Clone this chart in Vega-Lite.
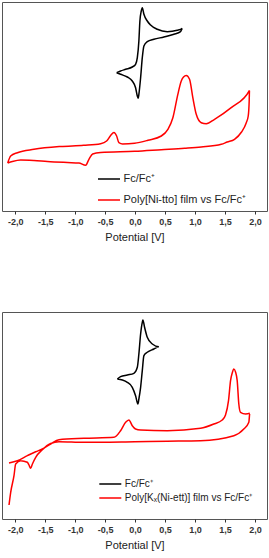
{
  "$schema": "https://vega.github.io/schema/vega-lite/v6.json",
  "padding": {"left": 1, "top": 1, "right": 2, "bottom": 0},
  "background": "white",
  "spacing": 68,
  "config": {
    "font": "Liberation Sans",
    "view": {"stroke": "#555555", "strokeWidth": 1},
    "axisX": {
      "values": [-2, -1.75, -1.5, -1.25, -1, -0.75, -0.5, -0.25, 0, 0.25, 0.5, 0.75, 1, 1.25, 1.5, 1.75, 2],
      "labelExpr": "abs(datum.value*2 - round(datum.value*2)) < 0.001 ? replace(replace(format(datum.value, '.1f'), '.', ','), '\u2212', '-') : ''",
      "domain": false,
      "grid": false,
      "ticks": true,
      "tickSize": 3,
      "tickColor": "#333333",
      "labelFont": "Liberation Sans",
      "labelFontWeight": "bold",
      "labelFontSize": 9,
      "labelColor": "#333333",
      "labelPadding": 3,
      "labelOverlap": false,
      "labelFlush": false,
      "titleFont": "Liberation Sans",
      "titleFontSize": 11,
      "titleFontWeight": "normal",
      "titleColor": "#222222",
      "titlePadding": 5
    },
    "legend": {
      "padding": 0,
      "symbolType": "M-2,0L2,0",
      "symbolSize": 121,
      "symbolStrokeWidth": 1.5,
      "labelFont": "Liberation Sans",
      "labelColor": "#222222",
      "labelOffset": 8,
      "title": null
    }
  },
  "resolve": {"scale": {"color": "independent"}},
  "datasets": {
    "top": [
      {"s": "Fc/Fc⁺", "i": 1, "V": -0.308, "I": 138.3},
      {"s": "Fc/Fc⁺", "i": 2, "V": -0.242, "I": 140},
      {"s": "Fc/Fc⁺", "i": 3, "V": -0.158, "I": 141.7},
      {"s": "Fc/Fc⁺", "i": 4, "V": -0.047, "I": 144},
      {"s": "Fc/Fc⁺", "i": 5, "V": 0.008, "I": 146.7},
      {"s": "Fc/Fc⁺", "i": 6, "V": 0.037, "I": 153.3},
      {"s": "Fc/Fc⁺", "i": 7, "V": 0.063, "I": 170},
      {"s": "Fc/Fc⁺", "i": 8, "V": 0.08, "I": 190},
      {"s": "Fc/Fc⁺", "i": 9, "V": 0.103, "I": 200},
      {"s": "Fc/Fc⁺", "i": 10, "V": 0.12, "I": 203.3},
      {"s": "Fc/Fc⁺", "i": 11, "V": 0.147, "I": 196.7},
      {"s": "Fc/Fc⁺", "i": 12, "V": 0.203, "I": 190},
      {"s": "Fc/Fc⁺", "i": 13, "V": 0.258, "I": 186},
      {"s": "Fc/Fc⁺", "i": 14, "V": 0.37, "I": 181.7},
      {"s": "Fc/Fc⁺", "i": 15, "V": 0.537, "I": 179.3},
      {"s": "Fc/Fc⁺", "i": 16, "V": 0.703, "I": 180.7},
      {"s": "Fc/Fc⁺", "i": 17, "V": 0.787, "I": 182.7},
      {"s": "Fc/Fc⁺", "i": 18, "V": 0.758, "I": 179.3},
      {"s": "Fc/Fc⁺", "i": 19, "V": 0.647, "I": 176.7},
      {"s": "Fc/Fc⁺", "i": 20, "V": 0.48, "I": 174},
      {"s": "Fc/Fc⁺", "i": 21, "V": 0.313, "I": 171.7},
      {"s": "Fc/Fc⁺", "i": 22, "V": 0.203, "I": 169.3},
      {"s": "Fc/Fc⁺", "i": 23, "V": 0.147, "I": 165},
      {"s": "Fc/Fc⁺", "i": 24, "V": 0.12, "I": 153.3},
      {"s": "Fc/Fc⁺", "i": 25, "V": 0.092, "I": 133.3},
      {"s": "Fc/Fc⁺", "i": 26, "V": 0.063, "I": 116.7},
      {"s": "Fc/Fc⁺", "i": 27, "V": 0.053, "I": 112.7},
      {"s": "Fc/Fc⁺", "i": 28, "V": 0.037, "I": 115},
      {"s": "Fc/Fc⁺", "i": 29, "V": 0.008, "I": 123.3},
      {"s": "Fc/Fc⁺", "i": 30, "V": -0.047, "I": 130},
      {"s": "Fc/Fc⁺", "i": 31, "V": -0.13, "I": 134},
      {"s": "Fc/Fc⁺", "i": 32, "V": -0.242, "I": 136.7},
      {"s": "Fc/Fc⁺", "i": 33, "V": -0.308, "I": 138.3},

      {"s": "Poly[Ni-tto] film vs Fc/Fc⁺", "i": 1, "V": -2.125, "I": 48},
      {"s": "Poly[Ni-tto] film vs Fc/Fc⁺", "i": 2, "V": -2.075, "I": 55},
      {"s": "Poly[Ni-tto] film vs Fc/Fc⁺", "i": 3, "V": -1.963, "I": 58.3},
      {"s": "Poly[Ni-tto] film vs Fc/Fc⁺", "i": 4, "V": -1.687, "I": 61.7},
      {"s": "Poly[Ni-tto] film vs Fc/Fc⁺", "i": 5, "V": -1.242, "I": 64.5},
      {"s": "Poly[Ni-tto] film vs Fc/Fc⁺", "i": 6, "V": -0.858, "I": 65.7},
      {"s": "Poly[Ni-tto] film vs Fc/Fc⁺", "i": 7, "V": -0.575, "I": 67.3},
      {"s": "Poly[Ni-tto] film vs Fc/Fc⁺", "i": 8, "V": -0.475, "I": 70},
      {"s": "Poly[Ni-tto] film vs Fc/Fc⁺", "i": 9, "V": -0.408, "I": 75.5},
      {"s": "Poly[Ni-tto] film vs Fc/Fc⁺", "i": 10, "V": -0.353, "I": 78.5},
      {"s": "Poly[Ni-tto] film vs Fc/Fc⁺", "i": 11, "V": -0.308, "I": 75},
      {"s": "Poly[Ni-tto] film vs Fc/Fc⁺", "i": 12, "V": -0.27, "I": 68.3},
      {"s": "Poly[Ni-tto] film vs Fc/Fc⁺", "i": 13, "V": -0.208, "I": 67},
      {"s": "Poly[Ni-tto] film vs Fc/Fc⁺", "i": 14, "V": -0.008, "I": 67.7},
      {"s": "Poly[Ni-tto] film vs Fc/Fc⁺", "i": 15, "V": 0.213, "I": 70.7},
      {"s": "Poly[Ni-tto] film vs Fc/Fc⁺", "i": 16, "V": 0.437, "I": 75},
      {"s": "Poly[Ni-tto] film vs Fc/Fc⁺", "i": 17, "V": 0.547, "I": 81.7},
      {"s": "Poly[Ni-tto] film vs Fc/Fc⁺", "i": 18, "V": 0.63, "I": 93.3},
      {"s": "Poly[Ni-tto] film vs Fc/Fc⁺", "i": 19, "V": 0.713, "I": 116.7},
      {"s": "Poly[Ni-tto] film vs Fc/Fc⁺", "i": 20, "V": 0.77, "I": 130},
      {"s": "Poly[Ni-tto] film vs Fc/Fc⁺", "i": 21, "V": 0.808, "I": 134},
      {"s": "Poly[Ni-tto] film vs Fc/Fc⁺", "i": 22, "V": 0.853, "I": 135.5},
      {"s": "Poly[Ni-tto] film vs Fc/Fc⁺", "i": 23, "V": 0.908, "I": 131.7},
      {"s": "Poly[Ni-tto] film vs Fc/Fc⁺", "i": 24, "V": 0.963, "I": 113.3},
      {"s": "Poly[Ni-tto] film vs Fc/Fc⁺", "i": 25, "V": 1.02, "I": 96.7},
      {"s": "Poly[Ni-tto] film vs Fc/Fc⁺", "i": 26, "V": 1.103, "I": 88.3},
      {"s": "Poly[Ni-tto] film vs Fc/Fc⁺", "i": 27, "V": 1.187, "I": 87.3},
      {"s": "Poly[Ni-tto] film vs Fc/Fc⁺", "i": 28, "V": 1.325, "I": 91.7},
      {"s": "Poly[Ni-tto] film vs Fc/Fc⁺", "i": 29, "V": 1.603, "I": 103.3},
      {"s": "Poly[Ni-tto] film vs Fc/Fc⁺", "i": 30, "V": 1.908, "I": 120.7},
      {"s": "Poly[Ni-tto] film vs Fc/Fc⁺", "i": 31, "V": 1.903, "I": 110},
      {"s": "Poly[Ni-tto] film vs Fc/Fc⁺", "i": 32, "V": 1.887, "I": 95},
      {"s": "Poly[Ni-tto] film vs Fc/Fc⁺", "i": 33, "V": 1.853, "I": 88},
      {"s": "Poly[Ni-tto] film vs Fc/Fc⁺", "i": 34, "V": 1.775, "I": 79},
      {"s": "Poly[Ni-tto] film vs Fc/Fc⁺", "i": 35, "V": 1.658, "I": 71.7},
      {"s": "Poly[Ni-tto] film vs Fc/Fc⁺", "i": 36, "V": 1.537, "I": 69},
      {"s": "Poly[Ni-tto] film vs Fc/Fc⁺", "i": 37, "V": 1.437, "I": 66.7},
      {"s": "Poly[Ni-tto] film vs Fc/Fc⁺", "i": 38, "V": 1.103, "I": 64},
      {"s": "Poly[Ni-tto] film vs Fc/Fc⁺", "i": 39, "V": 0.825, "I": 62.7},
      {"s": "Poly[Ni-tto] film vs Fc/Fc⁺", "i": 40, "V": 0.437, "I": 61.3},
      {"s": "Poly[Ni-tto] film vs Fc/Fc⁺", "i": 41, "V": -0.008, "I": 59.7},
      {"s": "Poly[Ni-tto] film vs Fc/Fc⁺", "i": 42, "V": -0.575, "I": 58.5},
      {"s": "Poly[Ni-tto] film vs Fc/Fc⁺", "i": 43, "V": -0.708, "I": 57},
      {"s": "Poly[Ni-tto] film vs Fc/Fc⁺", "i": 44, "V": -0.77, "I": 51.7},
      {"s": "Poly[Ni-tto] film vs Fc/Fc⁺", "i": 45, "V": -0.825, "I": 45.7},
      {"s": "Poly[Ni-tto] film vs Fc/Fc⁺", "i": 46, "V": -0.937, "I": 48},
      {"s": "Poly[Ni-tto] film vs Fc/Fc⁺", "i": 47, "V": -1.13, "I": 48.5},
      {"s": "Poly[Ni-tto] film vs Fc/Fc⁺", "i": 48, "V": -1.463, "I": 49.5},
      {"s": "Poly[Ni-tto] film vs Fc/Fc⁺", "i": 49, "V": -1.687, "I": 50.5},
      {"s": "Poly[Ni-tto] film vs Fc/Fc⁺", "i": 50, "V": -1.908, "I": 51},
      {"s": "Poly[Ni-tto] film vs Fc/Fc⁺", "i": 51, "V": -2.047, "I": 49.5},
      {"s": "Poly[Ni-tto] film vs Fc/Fc⁺", "i": 52, "V": -2.125, "I": 48}
    ],
    "bottom": [
      {"s": "Fc/Fc⁺", "i": 1, "V": -0.297, "I": 140},
      {"s": "Fc/Fc⁺", "i": 2, "V": -0.242, "I": 142.3},
      {"s": "Fc/Fc⁺", "i": 3, "V": -0.13, "I": 144},
      {"s": "Fc/Fc⁺", "i": 4, "V": -0.02, "I": 145.7},
      {"s": "Fc/Fc⁺", "i": 5, "V": 0.037, "I": 151.7},
      {"s": "Fc/Fc⁺", "i": 6, "V": 0.063, "I": 165},
      {"s": "Fc/Fc⁺", "i": 7, "V": 0.092, "I": 185},
      {"s": "Fc/Fc⁺", "i": 8, "V": 0.12, "I": 196.7},
      {"s": "Fc/Fc⁺", "i": 9, "V": 0.13, "I": 199},
      {"s": "Fc/Fc⁺", "i": 10, "V": 0.158, "I": 191.7},
      {"s": "Fc/Fc⁺", "i": 11, "V": 0.203, "I": 181.7},
      {"s": "Fc/Fc⁺", "i": 12, "V": 0.287, "I": 175},
      {"s": "Fc/Fc⁺", "i": 13, "V": 0.397, "I": 172.3},
      {"s": "Fc/Fc⁺", "i": 14, "V": 0.313, "I": 170},
      {"s": "Fc/Fc⁺", "i": 15, "V": 0.203, "I": 166.7},
      {"s": "Fc/Fc⁺", "i": 16, "V": 0.147, "I": 163.3},
      {"s": "Fc/Fc⁺", "i": 17, "V": 0.12, "I": 148.3},
      {"s": "Fc/Fc⁺", "i": 18, "V": 0.092, "I": 131.7},
      {"s": "Fc/Fc⁺", "i": 19, "V": 0.063, "I": 120},
      {"s": "Fc/Fc⁺", "i": 20, "V": 0.047, "I": 115},
      {"s": "Fc/Fc⁺", "i": 21, "V": 0.008, "I": 123.3},
      {"s": "Fc/Fc⁺", "i": 22, "V": -0.047, "I": 131.7},
      {"s": "Fc/Fc⁺", "i": 23, "V": -0.13, "I": 136.7},
      {"s": "Fc/Fc⁺", "i": 24, "V": -0.213, "I": 139},
      {"s": "Fc/Fc⁺", "i": 25, "V": -0.297, "I": 140},

      {"s": "Poly[Kₓ(Ni-ett)] film vs Fc/Fc⁺", "i": 1, "V": -2.103, "I": 56},
      {"s": "Poly[Kₓ(Ni-ett)] film vs Fc/Fc⁺", "i": 2, "V": -1.963, "I": 58.3},
      {"s": "Poly[Kₓ(Ni-ett)] film vs Fc/Fc⁺", "i": 3, "V": -1.797, "I": 63.3},
      {"s": "Poly[Kₓ(Ni-ett)] film vs Fc/Fc⁺", "i": 4, "V": -1.658, "I": 67.3},
      {"s": "Poly[Kₓ(Ni-ett)] film vs Fc/Fc⁺", "i": 5, "V": -1.547, "I": 70},
      {"s": "Poly[Kₓ(Ni-ett)] film vs Fc/Fc⁺", "i": 6, "V": -1.408, "I": 75},
      {"s": "Poly[Kₓ(Ni-ett)] film vs Fc/Fc⁺", "i": 7, "V": -1.27, "I": 79.3},
      {"s": "Poly[Kₓ(Ni-ett)] film vs Fc/Fc⁺", "i": 8, "V": -0.853, "I": 80.7},
      {"s": "Poly[Kₓ(Ni-ett)] film vs Fc/Fc⁺", "i": 9, "V": -0.353, "I": 81.7},
      {"s": "Poly[Kₓ(Ni-ett)] film vs Fc/Fc⁺", "i": 10, "V": -0.242, "I": 88.3},
      {"s": "Poly[Kₓ(Ni-ett)] film vs Fc/Fc⁺", "i": 11, "V": -0.158, "I": 96.7},
      {"s": "Poly[Kₓ(Ni-ett)] film vs Fc/Fc⁺", "i": 12, "V": -0.103, "I": 99},
      {"s": "Poly[Kₓ(Ni-ett)] film vs Fc/Fc⁺", "i": 13, "V": -0.047, "I": 93.3},
      {"s": "Poly[Kₓ(Ni-ett)] film vs Fc/Fc⁺", "i": 14, "V": 0.008, "I": 90},
      {"s": "Poly[Kₓ(Ni-ett)] film vs Fc/Fc⁺", "i": 15, "V": 0.092, "I": 89},
      {"s": "Poly[Kₓ(Ni-ett)] film vs Fc/Fc⁺", "i": 16, "V": 0.537, "I": 88.3},
      {"s": "Poly[Kₓ(Ni-ett)] film vs Fc/Fc⁺", "i": 17, "V": 1.092, "I": 90.7},
      {"s": "Poly[Kₓ(Ni-ett)] film vs Fc/Fc⁺", "i": 18, "V": 1.313, "I": 95},
      {"s": "Poly[Kₓ(Ni-ett)] film vs Fc/Fc⁺", "i": 19, "V": 1.453, "I": 99},
      {"s": "Poly[Kₓ(Ni-ett)] film vs Fc/Fc⁺", "i": 20, "V": 1.508, "I": 104},
      {"s": "Poly[Kₓ(Ni-ett)] film vs Fc/Fc⁺", "i": 21, "V": 1.558, "I": 118.3},
      {"s": "Poly[Kₓ(Ni-ett)] film vs Fc/Fc⁺", "i": 22, "V": 1.592, "I": 138.3},
      {"s": "Poly[Kₓ(Ni-ett)] film vs Fc/Fc⁺", "i": 23, "V": 1.62, "I": 146},
      {"s": "Poly[Kₓ(Ni-ett)] film vs Fc/Fc⁺", "i": 24, "V": 1.647, "I": 150},
      {"s": "Poly[Kₓ(Ni-ett)] film vs Fc/Fc⁺", "i": 25, "V": 1.675, "I": 147},
      {"s": "Poly[Kₓ(Ni-ett)] film vs Fc/Fc⁺", "i": 26, "V": 1.703, "I": 138.3},
      {"s": "Poly[Kₓ(Ni-ett)] film vs Fc/Fc⁺", "i": 27, "V": 1.73, "I": 115},
      {"s": "Poly[Kₓ(Ni-ett)] film vs Fc/Fc⁺", "i": 28, "V": 1.758, "I": 106.7},
      {"s": "Poly[Kₓ(Ni-ett)] film vs Fc/Fc⁺", "i": 29, "V": 1.842, "I": 105},
      {"s": "Poly[Kₓ(Ni-ett)] film vs Fc/Fc⁺", "i": 30, "V": 1.913, "I": 105.7},
      {"s": "Poly[Kₓ(Ni-ett)] film vs Fc/Fc⁺", "i": 31, "V": 1.897, "I": 96.7},
      {"s": "Poly[Kₓ(Ni-ett)] film vs Fc/Fc⁺", "i": 32, "V": 1.813, "I": 90},
      {"s": "Poly[Kₓ(Ni-ett)] film vs Fc/Fc⁺", "i": 33, "V": 1.647, "I": 83.3},
      {"s": "Poly[Kₓ(Ni-ett)] film vs Fc/Fc⁺", "i": 34, "V": 1.092, "I": 78.3},
      {"s": "Poly[Kₓ(Ni-ett)] film vs Fc/Fc⁺", "i": 35, "V": 0.537, "I": 77.8},
      {"s": "Poly[Kₓ(Ni-ett)] film vs Fc/Fc⁺", "i": 36, "V": -0.008, "I": 77.3},
      {"s": "Poly[Kₓ(Ni-ett)] film vs Fc/Fc⁺", "i": 37, "V": -0.853, "I": 76.7},
      {"s": "Poly[Kₓ(Ni-ett)] film vs Fc/Fc⁺", "i": 38, "V": -1.27, "I": 77.3},
      {"s": "Poly[Kₓ(Ni-ett)] film vs Fc/Fc⁺", "i": 39, "V": -1.408, "I": 75.5},
      {"s": "Poly[Kₓ(Ni-ett)] film vs Fc/Fc⁺", "i": 40, "V": -1.547, "I": 69.3},
      {"s": "Poly[Kₓ(Ni-ett)] film vs Fc/Fc⁺", "i": 41, "V": -1.658, "I": 61.7},
      {"s": "Poly[Kₓ(Ni-ett)] film vs Fc/Fc⁺", "i": 42, "V": -1.713, "I": 55},
      {"s": "Poly[Kₓ(Ni-ett)] film vs Fc/Fc⁺", "i": 43, "V": -1.742, "I": 50.7},
      {"s": "Poly[Kₓ(Ni-ett)] film vs Fc/Fc⁺", "i": 44, "V": -1.77, "I": 54},
      {"s": "Poly[Kₓ(Ni-ett)] film vs Fc/Fc⁺", "i": 45, "V": -1.797, "I": 56.7},
      {"s": "Poly[Kₓ(Ni-ett)] film vs Fc/Fc⁺", "i": 46, "V": -1.908, "I": 58.3},
      {"s": "Poly[Kₓ(Ni-ett)] film vs Fc/Fc⁺", "i": 47, "V": -1.992, "I": 55},
      {"s": "Poly[Kₓ(Ni-ett)] film vs Fc/Fc⁺", "i": 48, "V": -2.02, "I": 43.3},
      {"s": "Poly[Kₓ(Ni-ett)] film vs Fc/Fc⁺", "i": 49, "V": -2.075, "I": 26.7},
      {"s": "Poly[Kₓ(Ni-ett)] film vs Fc/Fc⁺", "i": 50, "V": -2.103, "I": 14}
    ]
  },
  "vconcat": [
    {
      "width": 265,
      "height": 209,
      "data": {"name": "top"},
      "mark": {"type": "line", "strokeWidth": 1.5, "interpolate": "monotone", "clip": true},
      "encoding": {
        "x": {"field": "V", "type": "quantitative", "title": "Potential [V]", "scale": {"domain": [-2.22, 2.2], "nice": false, "zero": false}},
        "y": {"field": "I", "type": "quantitative", "axis": null, "scale": {"domain": [0, 209], "nice": false, "zero": false}},
        "color": {
          "field": "s", "type": "nominal",
          "scale": {"domain": ["Fc/Fc⁺", "Poly[Ni-tto] film vs Fc/Fc⁺"], "range": ["#000000", "#ff0000"]},
          "legend": {"orient": "none", "legendX": 100.5, "legendY": 170.5, "rowPadding": 9, "labelFontSize": 11}
        },
        "order": {"field": "i", "type": "quantitative"}
      }
    },
    {
      "width": 265,
      "height": 207,
      "data": {"name": "bottom"},
      "mark": {"type": "line", "strokeWidth": 1.5, "interpolate": "monotone", "clip": true},
      "encoding": {
        "x": {"field": "V", "type": "quantitative", "title": "Potential [V]", "scale": {"domain": [-2.22, 2.2], "nice": false, "zero": false}},
        "y": {"field": "I", "type": "quantitative", "axis": null, "scale": {"domain": [0, 207], "nice": false, "zero": false}},
        "color": {
          "field": "s", "type": "nominal",
          "scale": {"domain": ["Fc/Fc⁺", "Poly[Kₓ(Ni-ett)] film vs Fc/Fc⁺"], "range": ["#000000", "#ff0000"]},
          "legend": {"orient": "none", "legendX": 101.8, "legendY": 165.5, "rowPadding": 2, "labelFontSize": 10}
        },
        "order": {"field": "i", "type": "quantitative"}
      }
    }
  ]
}
